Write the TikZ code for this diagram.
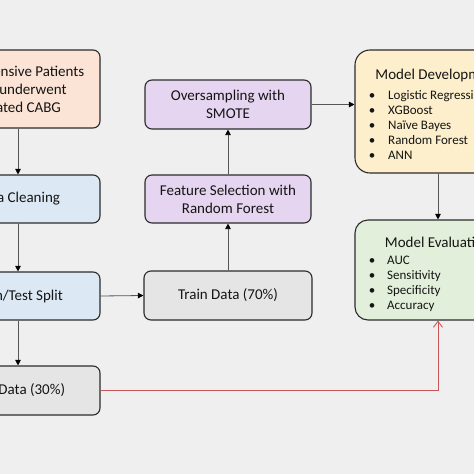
\documentclass[tikz,border=0pt]{standalone}
\usepackage{fontspec}
\setmainfont{Carlito}
\usetikzlibrary{arrows.meta}
\definecolor{bg}{HTML}{EFEFEF}
\definecolor{peach}{HTML}{FBE4D5}
\definecolor{lblue}{HTML}{DCE9F5}
\definecolor{lgray}{HTML}{E6E5E6}
\definecolor{lpurple}{HTML}{E5D5F0}
\definecolor{lyellow}{HTML}{FDEFCB}
\definecolor{lgreen}{HTML}{E2EFDA}
\definecolor{edge}{HTML}{2B2B2B}
\definecolor{conn}{HTML}{555555}
\definecolor{redline}{HTML}{C9565A}
\definecolor{txt}{HTML}{151515}
\tikzset{
  box/.style={draw=edge, line width=1.1pt, rounded corners=7pt, align=center,
    text=txt, font=\fontsize{15}{18}\selectfont, inner sep=2pt},
  bigbox/.style={draw=edge, line width=1.1pt, rounded corners=15pt},
  title/.style={text=txt, font=\fontsize{15}{18}\selectfont, inner sep=0pt},
  item/.style={text=txt, font=\fontsize{13}{15}\selectfont, inner sep=0pt,
    anchor=west, text height=0.7em, text depth=0.22em},
  bul/.style={text=txt, font=\fontsize{13}{15}\selectfont, inner sep=0pt,
    text height=0.7em, text depth=0.22em},
  arr/.style={draw=conn, line width=0.8pt, -{Triangle[length=5.5pt,width=5.5pt,color=black]}},
  redarr/.style={draw=redline, line width=0.9pt, -{Straight Barb[length=6pt,width=9pt]}},
}
\begin{document}
\begin{tikzpicture}[x=1pt,y=-1pt]
\useasboundingbox (0,0) rectangle (474,474);
\clip (0,0) rectangle (474,474);
\fill[bg] (0,0) rectangle (474,474);

% left column
\node[box, fill=peach, minimum width=164pt, minimum height=78pt] (pat) at (18,89)
  {Hypertensive Patients\\who underwent\\Isolated CABG};
\node[box, fill=lblue, minimum width=164pt, minimum height=48pt] (clean) at (18,199)
  {Data Cleaning};
\node[box, fill=lblue, minimum width=164pt, minimum height=48pt] (split) at (18,296)
  {Train/Test Split};
\node[box, fill=lgray, minimum width=164pt, minimum height=49pt] (test) at (18,390.5)
  {Test Data (30\%)};

% middle column
\node[box, fill=lgray, minimum width=168pt, minimum height=49pt] (train) at (228,295.5)
  {Train Data (70\%)};
\node[box, fill=lpurple, minimum width=166pt, minimum height=48pt] (feat) at (228,199)
  {Feature Selection with\\Random Forest};
\node[box, fill=lpurple, minimum width=166pt, minimum height=49pt] (smote) at (228,104.5)
  {Oversampling with\\SMOTE};

% right column
\node[bigbox, fill=lyellow, minimum width=166pt, minimum height=123pt] (dev) at (438,111.5) {};
\node[title] (devt) at (438,75) {Model Development};
\node[bul] (db1) at (372,97) {•};
\node[item] (d1) at (388,97) {Logistic Regression};
\node[bul] (db2) at (372,112) {•};
\node[item] (d2) at (388,112) {XGBoost};
\node[bul] (db3) at (372,127) {•};
\node[item] (d3) at (388,127) {Naïve Bayes};
\node[bul] (db4) at (372,142) {•};
\node[item] (d4) at (388,142) {Random Forest};
\node[bul] (db5) at (372,157) {•};
\node[item] (d5) at (388,157) {ANN};

\node[bigbox, rounded corners=13pt, fill=lgreen, minimum width=166pt, minimum height=100pt] (eval) at (438,270) {};
\node[title] (evt) at (438,242) {Model Evaluation};
\node[bul] (eb1) at (372,262) {•};
\node[item] (e1) at (387,262) {AUC};
\node[bul] (eb2) at (372,277) {•};
\node[item] (e2) at (387,277) {Sensitivity};
\node[bul] (eb3) at (372,292) {•};
\node[item] (e3) at (387,292) {Specificity};
\node[bul] (eb4) at (372,307) {•};
\node[item] (e4) at (387,307) {Accuracy};

% connectors
\draw[arr] (pat.south) -- (clean.north);
\draw[arr] (clean.south) -- (split.north);
\draw[arr] (split.south) -- (test.north);
\draw[arr] (split.east) -- (train.west);
\draw[arr] (train.north) -- (feat.south);
\draw[arr] (feat.north) -- (smote.south);
\draw[arr] (smote.east) -- (dev.west |- smote.east);
\draw[arr] (dev.south) -- (eval.north);
\coordinate (corner) at (eval.south |- test.east);
\draw[redarr] (test.east) -- (corner) -- (eval.south);
\end{tikzpicture}
\end{document}
